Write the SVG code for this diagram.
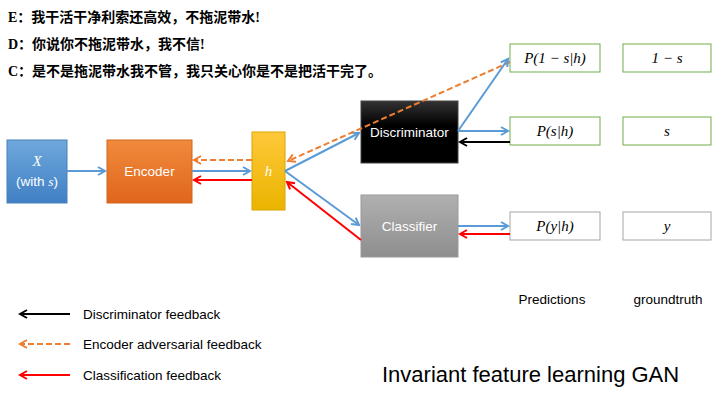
<svg xmlns="http://www.w3.org/2000/svg" width="720" height="402" viewBox="0 0 720 402">
<style>
.cn{font-family:"Liberation Serif","Noto Sans CJK SC",serif;font-size:14px;font-weight:bold;fill:#000}
.t{font-family:"Liberation Sans",Arial,sans-serif;font-size:13.5px;fill:#fff}
.m{font-family:"Liberation Serif",serif;font-style:italic;font-size:15px;fill:#000}
.lg{font-family:"Liberation Sans",Arial,sans-serif;font-size:13.5px;fill:#000}
.bl{stroke:#5b9bd5;stroke-width:2;fill:none}
.rd{stroke:#ff0000;stroke-width:2;fill:none}
.or{stroke:#ed7d31;stroke-width:2;fill:none;stroke-dasharray:6,3}
.bk{stroke:#000;stroke-width:2;fill:none}
</style>
<defs>
<linearGradient id="gb" x1="0" y1="0" x2="0" y2="1"><stop offset="0" stop-color="#6fa8dc"/><stop offset="1" stop-color="#3f7fc4"/></linearGradient>
<linearGradient id="go" x1="0" y1="0" x2="0" y2="1"><stop offset="0" stop-color="#f08a3c"/><stop offset="1" stop-color="#e0661c"/></linearGradient>
<linearGradient id="gy" x1="0" y1="0" x2="0" y2="1"><stop offset="0" stop-color="#ffc83a"/><stop offset="1" stop-color="#eab400"/></linearGradient>
<linearGradient id="gk" x1="0" y1="0" x2="0" y2="1"><stop offset="0" stop-color="#333"/><stop offset="0.4" stop-color="#000"/><stop offset="1" stop-color="#000"/></linearGradient>
<linearGradient id="gg" x1="0" y1="0" x2="0" y2="1"><stop offset="0" stop-color="#b0b0b0"/><stop offset="1" stop-color="#8e8e8e"/></linearGradient>
<marker id="ab" markerWidth="10" markerHeight="10" refX="8" refY="5" orient="auto" markerUnits="userSpaceOnUse"><path d="M1,1 L8,5 L1,9" fill="none" stroke="#5b9bd5" stroke-width="2"/></marker>
<marker id="ar" markerWidth="10" markerHeight="10" refX="8" refY="5" orient="auto" markerUnits="userSpaceOnUse"><path d="M1,1 L8,5 L1,9" fill="none" stroke="#ff0000" stroke-width="2"/></marker>
<marker id="ao" markerWidth="10" markerHeight="10" refX="8" refY="5" orient="auto" markerUnits="userSpaceOnUse"><path d="M1,1 L8,5 L1,9" fill="none" stroke="#ed7d31" stroke-width="2"/></marker>
<marker id="ak" markerWidth="10" markerHeight="10" refX="8" refY="5" orient="auto" markerUnits="userSpaceOnUse"><path d="M1,1 L8,5 L1,9" fill="none" stroke="#000" stroke-width="2"/></marker>
</defs>
<rect width="720" height="402" fill="#fff"/>
<text class="cn" x="8" y="22">E：我干活干净利索还高效，不拖泥带水!</text>
<text class="cn" x="8" y="49">D：你说你不拖泥带水，我不信!</text>
<text class="cn" x="8" y="76">C：是不是拖泥带水我不管，我只关心你是不是把活干完了。</text>

<g id="nX"><rect x="7" y="140" width="60" height="63" fill="url(#gb)" stroke="#4a80b8"/><text x="37" y="166" text-anchor="middle" style="font-family:'Liberation Serif',serif;font-style:italic;font-size:15px;fill:#fff">X</text><text x="37" y="186" text-anchor="middle" class="t">(with <tspan style="font-family:'Liberation Serif',serif;font-style:italic">s</tspan>)</text></g>
<g id="nEnc"><rect x="107" y="140" width="85" height="63" fill="url(#go)" stroke="#d0661c"/><text x="149.5" y="176" text-anchor="middle" class="t">Encoder</text></g>
<g id="nH"><rect x="252" y="132" width="33" height="78" fill="url(#gy)" stroke="#d9a400"/><text x="268.5" y="176" text-anchor="middle" style="font-family:'Liberation Serif',serif;font-style:italic;font-size:15px;fill:#fff">h</text></g>
<g id="nD"><rect x="361" y="101" width="97" height="62" fill="url(#gk)" stroke="#444"/><text x="409.5" y="137" text-anchor="middle" class="t">Discriminator</text></g>
<g id="nC"><rect x="361" y="195" width="97" height="62" fill="url(#gg)" stroke="#999"/><text x="409.5" y="231" text-anchor="middle" class="t">Classifier</text></g>
<g id="p1"><rect x="510" y="44" width="90" height="28" fill="#fff" stroke="#70ad47"/><text class="m" x="555" y="63" text-anchor="middle">P(1 − s|h)</text></g>
<g id="g1"><rect x="623" y="44" width="88" height="28" fill="#fff" stroke="#70ad47"/><text class="m" x="667" y="63" text-anchor="middle">1 − s</text></g>
<g id="p2"><rect x="510" y="117" width="90" height="28" fill="#fff" stroke="#70ad47"/><text class="m" x="555" y="136" text-anchor="middle">P(s|h)</text></g>
<g id="g2"><rect x="623" y="117" width="88" height="28" fill="#fff" stroke="#70ad47"/><text class="m" x="667" y="136" text-anchor="middle">s</text></g>
<g id="p3"><rect x="510" y="212" width="90" height="28" fill="#fff" stroke="#a5a5a5"/><text class="m" x="555" y="231" text-anchor="middle">P(y|h)</text></g>
<g id="g3"><rect x="623" y="212" width="88" height="28" fill="#fff" stroke="#a5a5a5"/><text class="m" x="667" y="231" text-anchor="middle">y</text></g>

<g id="connectors">
<line class="bl" x1="67" y1="171" x2="105" y2="171" marker-end="url(#ab)"/>
<line class="bl" x1="192" y1="171" x2="250" y2="171" marker-end="url(#ab)"/>
<line class="or" x1="252" y1="160" x2="194" y2="160" marker-end="url(#ao)"/>
<line class="rd" x1="252" y1="180" x2="194" y2="180" marker-end="url(#ar)"/>
<line class="bl" x1="285" y1="171" x2="359" y2="133" marker-end="url(#ab)"/>
<line class="bl" x1="285" y1="171" x2="359" y2="225" marker-end="url(#ab)"/>
<line class="rd" x1="361" y1="240" x2="287" y2="182" marker-end="url(#ar)"/>
<line class="or" x1="510" y1="62" x2="288" y2="161" marker-end="url(#ao)"/>
<line class="bl" x1="458" y1="131" x2="508" y2="59" marker-end="url(#ab)"/>
<line class="bl" x1="458" y1="131" x2="508" y2="131" marker-end="url(#ab)"/>
<line class="bk" x1="510" y1="142" x2="460" y2="142" marker-end="url(#ak)"/>
<line class="bl" x1="458" y1="226" x2="508" y2="226" marker-end="url(#ab)"/>
<line class="rd" x1="510" y1="234" x2="460" y2="234" marker-end="url(#ar)"/>
</g>

<text class="lg" x="552" y="304" text-anchor="middle">Predictions</text>
<text class="lg" x="668" y="304" text-anchor="middle">groundtruth</text>
<g id="legend">
<line class="bk" x1="70" y1="314" x2="20" y2="314" marker-end="url(#ak)"/>
<text class="lg" x="83" y="319">Discriminator feedback</text>
<line class="or" x1="70" y1="344" x2="20" y2="344" marker-end="url(#ao)"/>
<text class="lg" x="83" y="349">Encoder adversarial feedback</text>
<line class="rd" x1="70" y1="375" x2="20" y2="375" marker-end="url(#ar)"/>
<text class="lg" x="83" y="380">Classification feedback</text>
</g>
<text x="382" y="382" style="font-family:'Liberation Sans',Arial,sans-serif;font-size:22px;fill:#000">Invariant feature learning GAN</text>
</svg>
